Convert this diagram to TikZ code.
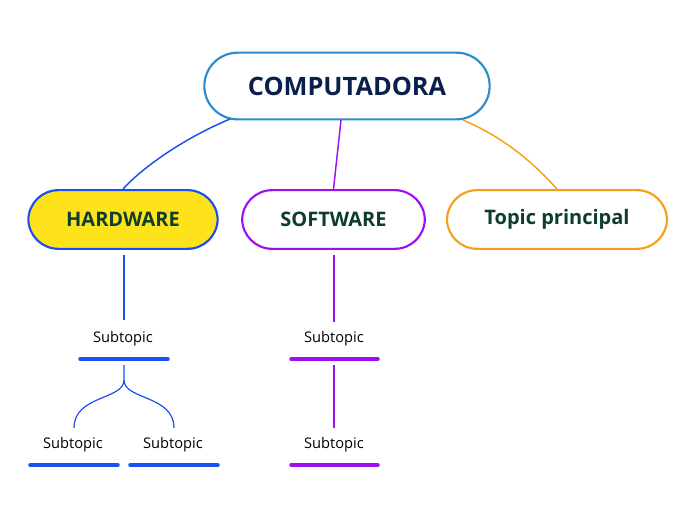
\documentclass[tikz,border=0pt]{standalone}
\usepackage{fontspec}
\setmainfont{Open Sans}
\definecolor{rootb}{HTML}{2A8CCF}
\definecolor{navy}{HTML}{0B1F4D}
\definecolor{dgreen}{HTML}{0D3D2F}
\definecolor{hblue}{HTML}{1A4FF0}
\definecolor{hyel}{HTML}{FFE31A}
\definecolor{spurp}{HTML}{9B10F0}
\definecolor{torange}{HTML}{F5A01A}
\begin{document}
\begin{tikzpicture}[x=0.75pt,y=-0.75pt,
  topicbox/.style={draw,line width=1.6pt,rounded corners=22.5pt,inner sep=0pt,text=dgreen,font=\fontsize{15}{18}\selectfont\bfseries},
  sub/.style={font=\fontsize{11}{13}\selectfont,inner sep=1pt},
  ul/.style={line width=2.6pt,line cap=round},
  conn/.style={line width=1.1pt}]
\useasboundingbox (0,0) rectangle (696,520);
\node[topicbox,draw=rootb,minimum width=214pt,minimum height=50pt,rounded corners=25pt,text=navy,font=\fontsize{19}{22}\selectfont\bfseries] (root) at (347,86) {COMPUTADORA};
\node[topicbox,draw=hblue,fill=hyel,minimum width=142pt,minimum height=44pt] (hw) at (123,219.5) {HARDWARE};
\node[topicbox,draw=spurp,minimum width=137pt,minimum height=44pt] (sw) at (333.5,219.5) {SOFTWARE};
\node[topicbox,draw=torange,minimum width=165pt,minimum height=44pt] (tp) at (557,219.5) {Topic principal};
\coordinate (r1) at (230,119); \coordinate (r2) at (341,120); \coordinate (r3) at (463,120);
\draw[conn,hblue] (r1) .. controls (180,140) and (140,170) .. (hw.north);
\draw[conn,spurp] (r2) -- (sw.north);
\draw[conn,torange] (r3) .. controls (510,140) and (540,170) .. (tp.north);
% hardware subtopics
\node[sub] (h1) at (123,339) {Subtopic};
\coordinate (h1a) at (80,359); \coordinate (h1b) at (168,359);
\draw[ul,hblue] (h1a) -- (h1b);
\coordinate (hw1) at (124,255); \coordinate (hw2) at (124,320);
\draw[conn,hblue,line width=0.9pt] (hw1) -- (hw2);
\node[sub] (h2) at (73,445) {Subtopic};
\node[sub] (h3) at (173,445) {Subtopic};
\coordinate (h2a) at (30,465); \coordinate (h2b) at (118,465);
\coordinate (h3a) at (130,465); \coordinate (h3b) at (218,465);
\draw[ul,hblue] (h2a) -- (h2b); \draw[ul,hblue] (h3a) -- (h3b);
\coordinate (hs) at (124,365); \coordinate (h2t) at (74,428); \coordinate (h3t) at (174,428);
\draw[conn,hblue,line width=0.9pt] (hs) -- (124,380) .. controls (124,400) and (74,395) .. (h2t);
\draw[conn,hblue,line width=0.9pt] (124,380) .. controls (124,400) and (174,395) .. (h3t);
% software subtopics
\node[sub] (s1) at (334,339) {Subtopic};
\node[sub] (s2) at (334,445) {Subtopic};
\coordinate (s1a) at (291,359); \coordinate (s1b) at (378,359);
\coordinate (s2a) at (291,465); \coordinate (s2b) at (378,465);
\draw[ul,spurp] (s1a) -- (s1b); \draw[ul,spurp] (s2a) -- (s2b);
\coordinate (sw1) at (334,255); \coordinate (sw2) at (334,322);
\coordinate (ss) at (334,365); \coordinate (st) at (334,428);
\draw[conn,spurp,line width=0.9pt] (sw1) -- (sw2);
\draw[conn,spurp,line width=0.9pt] (ss) -- (st);
\end{tikzpicture}
\end{document}
